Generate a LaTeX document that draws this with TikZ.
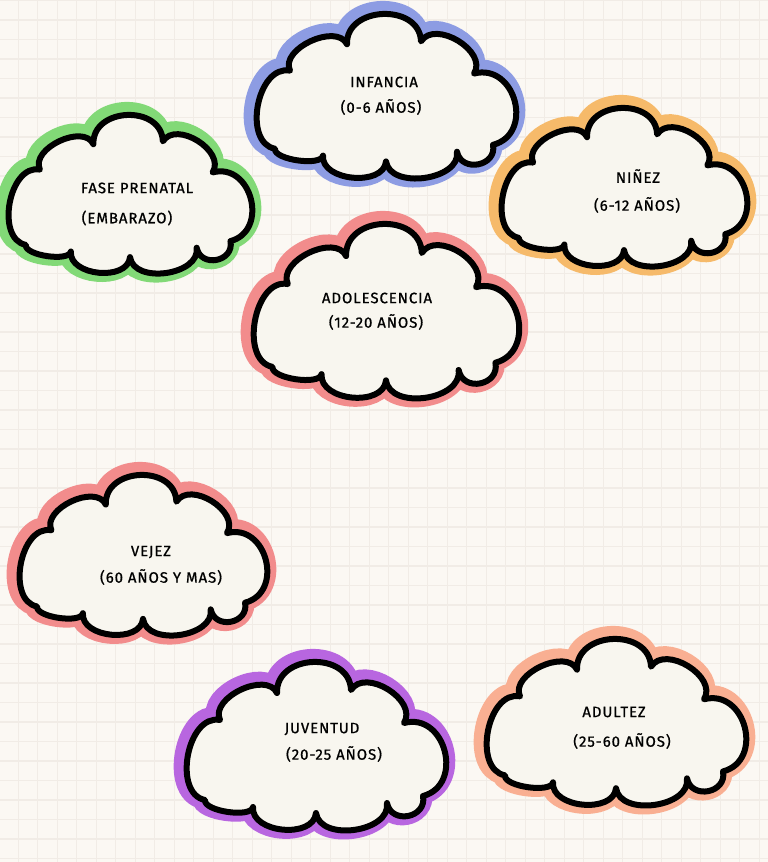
\documentclass[tikz,border=0pt]{standalone}
\usepackage{fontspec}
\newfontfamily\nubefont[LetterSpace=6, FakeBold=0.8]{Fira Sans}
\definecolor{papel}{HTML}{FBF8F3}
\definecolor{cuadro}{HTML}{F1ECE6}
\definecolor{crema}{HTML}{F8F6EF}
\definecolor{verde}{HTML}{82D977}
\definecolor{azul}{HTML}{8D9CE3}
\definecolor{naranja}{HTML}{F6BA6A}
\definecolor{rosa}{HTML}{F28C8C}
\definecolor{morado}{HTML}{B866E0}
\definecolor{salmon}{HTML}{F9AF92}

\begin{document}
\begin{tikzpicture}[x=1pt, y=-1pt]
		\tikzstyle{rejilla} = [draw=cuadro, line width=1.2pt]
		\tikzstyle{etiqueta} = [font=\nubefont\fontsize{15}{17}\selectfont, inner sep=0pt]
		\tikzstyle{nube} = [line join=round, fill=crema, draw=black, line width=6pt]

		% Paper with grid
		\fill[papel] (0,0) rectangle (768,862);
		\useasboundingbox (0,0) rectangle (768,862);
		\foreach \x in {18.3,37.8,...,768}
		\draw[rejilla] (\x,0) -- (\x,862);
		\foreach \y in {0.5,20,...,862}
		\draw[rejilla] (0,\y) -- (768,\y);

		% Clouds: centre x / centre y / half width / half height / colour
		\foreach \cx/\cy/\hw/\hh/\col in {130/195/123/80/verde, 386/97/131/83/azul, 624/188/124/80/naranja,
			386/312/134/88/rosa, 143/556/125/81/rosa, 316/747/131/85/morado, 616/723/131/84/salmon}
		{
		\begin{scope}[shift={(\cx,\cy)}, x=1pt, y=1pt, xscale=\hw/131, yscale=\hh/85]
			\path[nube, preaction={draw=\col, line width=22pt, transform canvas={shift={(-2pt,2pt)}}}]
			(-96,27) to[out=115,in=115,looseness=1.0] (-39,54)
			to[out=92,in=92,looseness=1.36] (35,57)
			to[out=58,in=58,looseness=1.1] (88,24)
			to[out=15,in=15,looseness=1.46] (107,-49)
			to[out=-79,in=-79,looseness=1.56] (71,-56)
			to[out=-82,in=-82,looseness=1.05] (0,-66)
			to[out=-95,in=-95,looseness=1.06] (-63,-60)
			to[out=-98,in=-98,looseness=0.6] (-111,-53)
			to[out=169,in=169,looseness=1.05] (-96,27) -- cycle;
		\end{scope}
		}

		% Fase prenatal
		\node[etiqueta] (prenatal) at (137,188) {FASE PRENATAL};
		\node[etiqueta] (embarazo) at (127,218) {(EMBARAZO)};
		% Infancia
		\node[etiqueta] (infancia) at (384,82) {INFANCIA};
		\node[etiqueta] (infanciaedad) at (381,107) {(0-6 AÑOS)};
		% Niñez
		\node[etiqueta] (ninez) at (638,176) {NIÑEZ};
		\node[etiqueta] (ninezedad) at (637,205) {(6-12 AÑOS)};
		% Adolescencia
		\node[etiqueta] (adolescencia) at (377,298) {ADOLESCENCIA};
		\node[etiqueta] (adolescenciaedad) at (376,322) {(12-20 AÑOS)};
		% Vejez
		\node[etiqueta] (vejez) at (151,552) {VEJEZ};
		\node[etiqueta] (vejezedad) at (161,577) {(60 AÑOS Y MAS)};
		% Juventud
		\node[etiqueta] (juventud) at (322,729) {JUVENTUD};
		\node[etiqueta] (juventudedad) at (334,754) {(20-25 AÑOS)};
		% Adultez
		\node[etiqueta] (adultez) at (614,712) {ADULTEZ};
		\node[etiqueta] (adultezedad) at (622,741) {(25-60 AÑOS)};
	\end{tikzpicture}
\end{document}
